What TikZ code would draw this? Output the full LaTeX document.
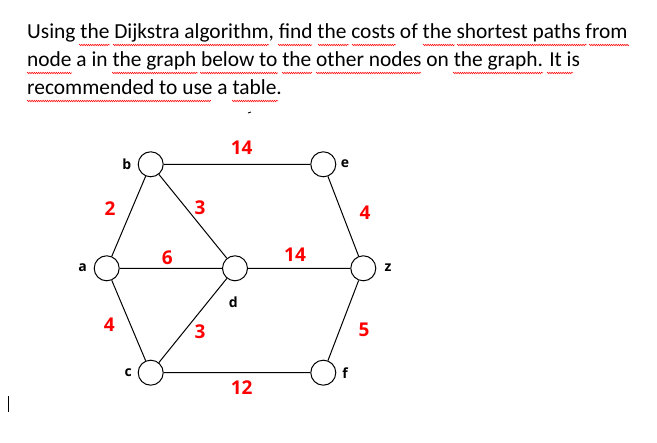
\documentclass[tikz,border=0pt]{standalone}
\usepackage{fontspec}
\setmainfont{Carlito}
\newfontfamily\lblfont{Open Sans}
\usetikzlibrary{decorations.pathmorphing}
\begin{document}
\begin{tikzpicture}[x=1pt,y=-1pt,
  vtx/.style={circle,draw,line width=1pt,minimum size=25pt,inner sep=0pt,fill=white},
  wt/.style={text=red,font=\lblfont\bfseries\fontsize{19}{19}\selectfont,inner sep=0pt},
  lbl/.style={font=\lblfont\bfseries\fontsize{14}{14}\selectfont,inner sep=0pt},
  edge/.style={line width=1pt},
  txt/.style={anchor=base west,inner sep=0pt,font=\fontsize{21.4}{22}\selectfont},
  wavy/.style={red,line width=0.5pt,decorate,decoration={snake,amplitude=0.8pt,segment length=2.2pt}}]
\useasboundingbox (0,0) rectangle (657,443);
\node[txt] (l1) at (27,39) {Using the Dijkstra algorithm, find the costs of the shortest paths from};
\node[txt] (l2) at (27,67) {node a in the graph below to the other nodes on the graph. It is};
\node[txt] (l3) at (27,95) {recommended to use a table.};
\foreach \a/\b in {79/110,113/269,278/312,318/349,352/396,423/455,457/587,589/629}
  \draw[wavy] (\a,45) -- (\b,45);
\foreach \a/\b in {27/72,112/198,200/278,282/312,316/421,453/543,547/573}
  \draw[wavy] (\a,73) -- (\b,73);
\foreach \a/\b in {27/211,232/278}
  \draw[wavy] (\a,101) -- (\b,101);
\draw[line width=0.8pt] (248,113) -- (251,112);
\draw[line width=0.6pt] (8,396) -- (8,412);
\node[vtx] (a) at (106.7,268.3) {};
\node[vtx] (b) at (150.7,164.3) {};
\node[vtx] (c) at (150.7,372.7) {};
\node[vtx] (d) at (235,268.3) {};
\node[vtx] (e) at (323.3,164.3) {};
\node[vtx] (z) at (363.3,268.3) {};
\node[vtx] (f) at (323.3,372.7) {};
\draw[edge] (a)--(b) (a)--(d) (a)--(c) (b)--(d) (c)--(d) (b)--(e) (d)--(z) (c)--(f) (e)--(z) (z)--(f);
\node[wt] (w1) at (241.7,148) {14};
\node[wt] (w2) at (110,209) {2};
\node[wt] (w3) at (200,208) {3};
\node[wt] (w4) at (365,212.7) {4};
\node[wt] (w5) at (167.3,257.7) {6};
\node[wt] (w6) at (295,255) {14};
\node[wt] (w7) at (109.3,325) {4};
\node[wt] (w8) at (200,331.7) {3};
\node[wt] (w9) at (364,330) {5};
\node[wt] (w10) at (241.7,388) {12};
\node[lbl] (lb) at (126.7,164) {b};
\node[lbl] (le) at (345,164) {e};
\node[lbl] (la) at (82.7,268) {a};
\node[lbl] (lz) at (388,268) {z};
\node[lbl] (ld) at (233.3,302) {d};
\node[lbl] (lc) at (128.3,372.7) {c};
\node[lbl] (lf) at (345,372.7) {f};
\end{tikzpicture}
\end{document}
